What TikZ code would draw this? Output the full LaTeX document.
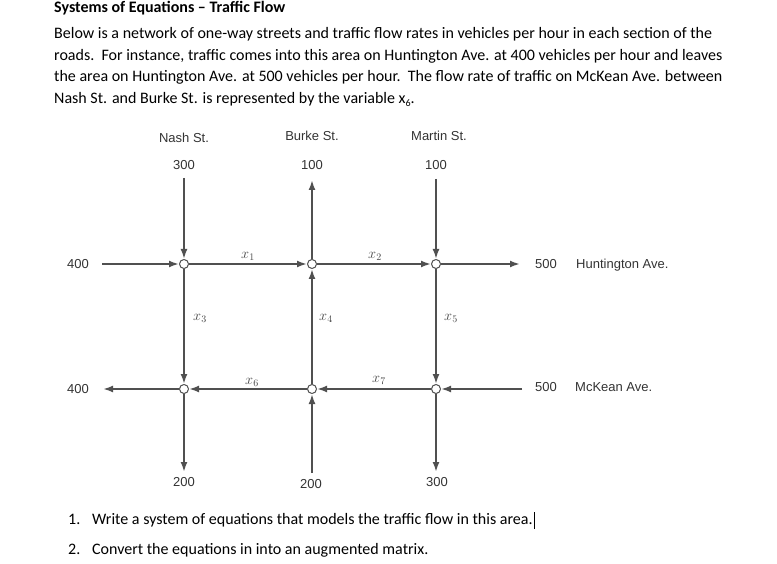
\documentclass[tikz,border=0pt]{standalone}
\usepackage{fontspec}
\setmainfont{Carlito}
\newfontfamily\arialfont{Liberation Sans}
\usetikzlibrary{arrows.meta}
\definecolor{roadc}{HTML}{505050}
\definecolor{lblc}{HTML}{333333}
\definecolor{varc}{HTML}{444444}
\begin{document}
\begin{tikzpicture}[x=1pt,y=-1pt,
  flow/.style={draw=roadc, line width=2pt, -{Latex[length=10pt,width=7pt]}},
  junc/.style={circle, draw=roadc, line width=1pt, fill=white, minimum size=9pt, inner sep=0pt},
  lab/.style={font=\arialfont\fontsize{13}{15}\selectfont, text=lblc, inner sep=0pt, anchor=base},
  var/.style={font=\fontsize{14.5}{16}\selectfont, text=varc, inner sep=0pt, anchor=center},
  body/.style={font=\fontsize{16}{19}\selectfont, inner sep=0pt, anchor=base west}]
\useasboundingbox (0,0) rectangle (777,564);
% text
\node[body] (title) at (54,13) {\textbf{Systems of Equations -- Traffic Flow}};
\node[body] (p1) at (54,39) {Below is a network of one-way streets and traffic flow rates in vehicles per hour in each section of the};
\node[body] (p2) at (54,61) {roads.\ \ For instance, traffic comes into this area on Huntington Ave. at 400 vehicles per hour and leaves};
\node[body] (p3) at (54,82) {the area on Huntington Ave. at 500 vehicles per hour.\ \ The flow rate of traffic on McKean Ave. between};
\node[body] (p4) at (54,104) {Nash St. and Burke St. is represented by the variable x\raisebox{-0.35ex}{\fontsize{10}{10}\selectfont 6}.};
\node[body] (q1n) at (68,524) {1.};
\node[body] (q1) at (92,524) {Write a system of equations that models the traffic flow in this area.};
\node[body] (q2n) at (68,554) {2.};
\node[body] (q2) at (92,554) {Convert the equations in into an augmented matrix.};
\draw[black, line width=0.8pt] ([xshift=2pt,yshift=-5pt]q1.base east) -- ([xshift=2pt,yshift=12pt]q1.base east);
% junctions
\node[junc] (J11) at (184,264) {};
\node[junc] (J12) at (312,264) {};
\node[junc] (J13) at (436,264) {};
\node[junc] (J21) at (184,389) {};
\node[junc] (J22) at (312,389) {};
\node[junc] (J23) at (436,389) {};
% free ends
\coordinate (tN) at (184,178);
\coordinate (tB) at (312,180);
\coordinate (tM) at (436,179);
\coordinate (bN) at (184,472);
\coordinate (bB) at (312,473);
\coordinate (bM) at (436,472);
\coordinate (hL) at (102,264);
\coordinate (hR) at (520,264);
\coordinate (mL) at (103,389);
\coordinate (mR) at (522,389);
% streets
\draw[flow] (tN) -- (J11);
\draw[flow] (J11) -- (J21);
\draw[flow] (J21) -- (bN);
\draw[flow] (J12) -- (tB);
\draw[flow] (J22) -- (J12);
\draw[flow] (bB) -- (J22);
\draw[flow] (tM) -- (J13);
\draw[flow] (J13) -- (J23);
\draw[flow] (J23) -- (bM);
% avenues
\draw[flow] (hL) -- (J11);
\draw[flow] (J11) -- (J12);
\draw[flow] (J12) -- (J13);
\draw[flow] (J13) -- (hR);
\draw[flow] (J21) -- (mL);
\draw[flow] (J22) -- (J21);
\draw[flow] (J23) -- (J22);
\draw[flow] (mR) -- (J23);
% labels
\node[lab] (nash) at (184,142.5) {Nash St.};
\node[lab] (burke) at (312,140.5) {Burke St.};
\node[lab] (martin) at (439,140.5) {Martin St.};
\node[lab] (n300) at (184,169.5) {300};
\node[lab] (b100) at (312,169.5) {100};
\node[lab] (m100) at (436,169.5) {100};
\node[lab] (h400) at (78,268.5) {400};
\node[lab] (m400) at (78,393.5) {400};
\node[lab] (h500) at (546,268.5) {500};
\node[lab, anchor=base west] (hunt) at (576,268.5) {Huntington Ave.};
\node[lab] (mk500) at (546,391.5) {500};
\node[lab, anchor=base west] (mck) at (575,391.5) {McKean Ave.};
\node[lab] (s200a) at (184,486.5) {200};
\node[lab] (s200b) at (311,488.5) {200};
\node[lab] (s300) at (437,486.5) {300};
\node[var] (x1) at (248,256) {$x_1$};
\node[var] (x2) at (375,256) {$x_2$};
\node[var] (x3) at (200,318) {$x_3$};
\node[var] (x4) at (326,318) {$x_4$};
\node[var] (x5) at (451,318) {$x_5$};
\node[var] (x6) at (252,382) {$x_6$};
\node[var] (x7) at (379,380) {$x_7$};
\end{tikzpicture}
\end{document}
